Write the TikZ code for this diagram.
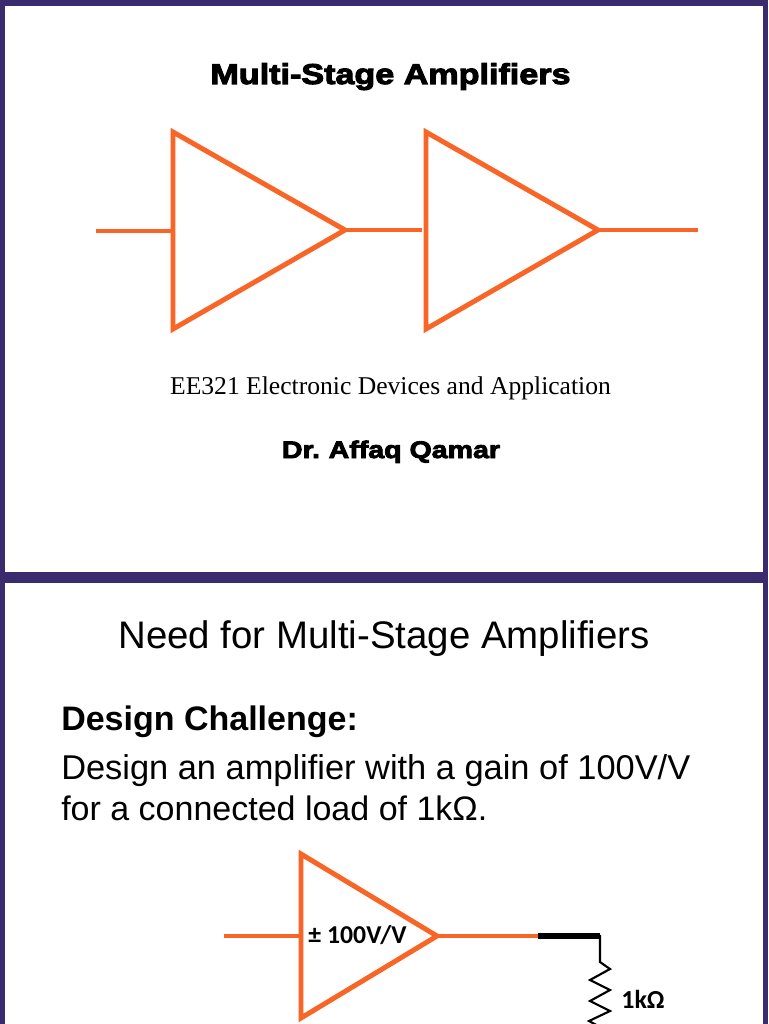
\documentclass[tikz,border=0pt]{standalone}
\usepackage{fontspec}
\setmainfont{Liberation Sans}
\newfontfamily\blackfont[FakeBold=3.6,FakeStretch=1.19]{Liberation Sans Bold}
\newfontfamily\serifface{Liberation Serif}
\newfontfamily\labelfont{Carlito Bold}
\definecolor{frame}{HTML}{3A2A6E}
\definecolor{amp}{HTML}{F96526}
\tikzset{
  wire/.style={draw=amp,line width=3.1pt},
  midwire/.style={draw=amp,line width=2.5pt},
  amp tri/.style={draw=amp,line width=3.7pt,line join=miter},
  txt/.style={inner sep=0pt,anchor=base,text=black},
}
\begin{document}
\begin{tikzpicture}[x=0.75pt,y=-0.75pt]
\useasboundingbox (0,0) rectangle (768,1024);
\fill[frame] (0,0) rectangle (768,1024);
\fill[white] (5,6) rectangle (763,572);
\fill[white] (5,583) rectangle (763,1024);
\node[txt] (t1) at (390.5,84) {\fontsize{21.5pt}{24pt}\blackfont Multi-Stage Amplifiers};
\node[txt] (t2) at (390.5,394) {\fontsize{19.2pt}{22pt}\serifface EE321 Electronic Devices and Application};
\node[txt] (t3) at (391,458) {\fontsize{18pt}{22pt}\blackfont Dr.\hspace{0.36em}Affaq Qamar};
\node[txt] (t4) at (384,648) {\fontsize{28.8pt}{32pt}\selectfont Need for Multi-Stage Amplifiers};
\node[txt,anchor=base west] (t5) at (61,730) {\fontsize{25.5pt}{30pt}\selectfont\bfseries Design Challenge:};
\node[txt,anchor=base west] (t6) at (61,779) {\fontsize{25.8pt}{30pt}\selectfont Design an amplifier with a gain of 100V/V};
\node[txt,anchor=base west] (t7) at (61,820) {\fontsize{25.5pt}{30pt}\selectfont for a connected load of 1kΩ.};
\coordinate (a1) at (173,132);\coordinate (b1) at (173,329);\coordinate (c1) at (345,230);
\coordinate (a2) at (426,132);\coordinate (b2) at (426,329);\coordinate (c2) at (598,230);
\coordinate (a3) at (301,854);\coordinate (b3) at (301,1018);\coordinate (c3) at (437,936);
\coordinate (i1) at (96,231);\coordinate (ti1) at (173,231);
\coordinate (m1) at (422,230);\coordinate (o2) at (698,230);
\coordinate (i3) at (224,936);\coordinate (ti3) at (301,936);
\coordinate (k) at (538,936);\coordinate (corner) at (600,936);
\draw[amp tri] (a1)--(b1)--(c1)--cycle;
\draw[amp tri] (a2)--(b2)--(c2)--cycle;
\draw[amp tri] (a3)--(b3)--(c3)--cycle;
\draw[wire] (i1)--(ti1);
\draw[midwire] (c1)--(m1);
\draw[midwire] (c2)--(o2);
\draw[wire] (i3)--(ti3);
\draw[wire] (c3)--(k);
\draw[black,line width=3.8pt] (k)--(corner);
\draw[black,line width=1.6pt] (600,935)--(600,962)--(610,969)--(590,980)--(610,990)--(590,1001)--(610,1011)--(589,1021)--(600,1027);
\node[txt] (g) at (357.5,943) {\fontsize{19.3pt}{20pt}\labelfont ± 100V/V};
\node[txt] (r) at (643,1008) {\fontsize{19.5pt}{20pt}\labelfont 1kΩ};
\end{tikzpicture}
\end{document}
